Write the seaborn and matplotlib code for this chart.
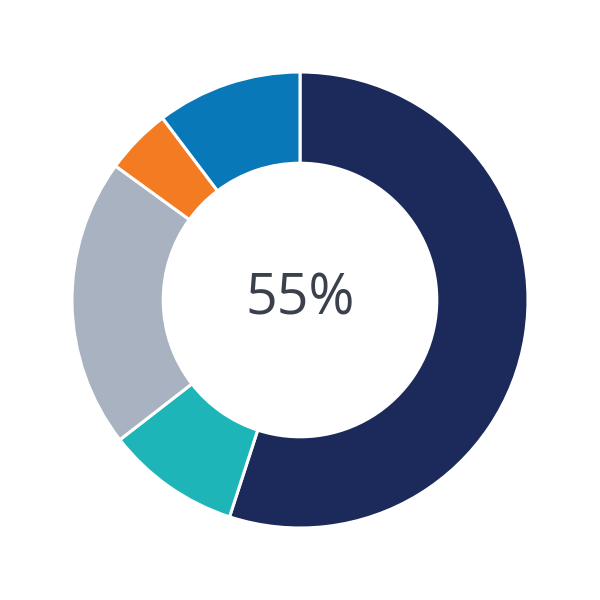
import matplotlib
matplotlib.use("Agg")
import matplotlib.pyplot as plt
import seaborn as sns

# donut segments, clockwise from 12 o'clock
labels = ["Navy", "Teal", "Gray", "Orange", "Blue"]
shares = [55, 9.5, 20.5, 4.7, 10.3]
colors = ["#1b2a5a", "#1db5b8", "#a8b2c0", "#f37b21", "#0978b8"]
center_text = "55%"

sns.set_theme(style="white")
plt.rcParams['font.family'] = ['Open Sans', 'DejaVu Sans']

fig = plt.figure(figsize=(6, 6), dpi=100)
ax = fig.add_axes([0, 0, 1, 1])
pal = sns.color_palette(colors)

ax.pie(shares, colors=pal, startangle=90, counterclock=False, radius=1,
       wedgeprops=dict(width=0.4, edgecolor="white", linewidth=2.2))
ax.text(0, 0, center_text, ha="center", va="center",
        fontsize=40, color="#3b414c")

lim = 300 / 228
ax.set_xlim(-lim, lim)
ax.set_ylim(-lim, lim)
ax.set_aspect("equal")
ax.axis("off")

fig.savefig("out.png", dpi=100, facecolor="white")
